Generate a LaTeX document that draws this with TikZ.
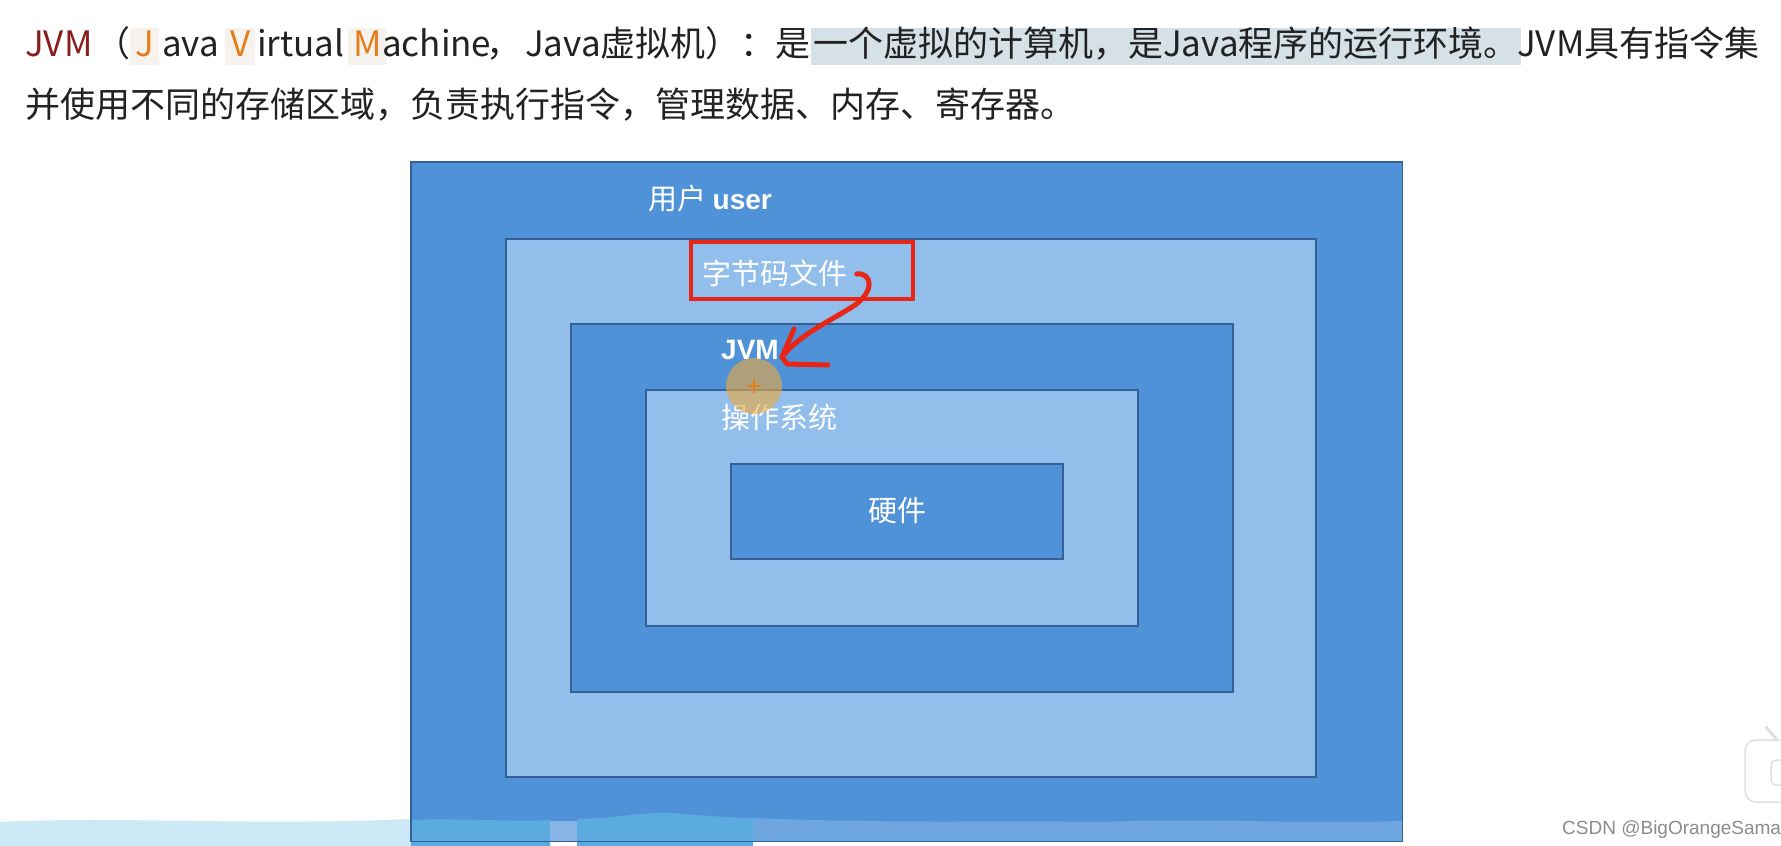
\documentclass[tikz,border=0pt]{standalone}
\usepackage{fontspec}
\newfontfamily\cjk{Noto Sans CJK SC}
\newfontfamily\lsans{Liberation Sans}
\usetikzlibrary{calc}
\definecolor{boxdark}{RGB}{79,146,216}
\definecolor{boxlight}{RGB}{146,190,236}
\definecolor{boxline}{RGB}{52,96,150}
\definecolor{redmark}{RGB}{232,38,24}
\definecolor{hlbg}{RGB}{214,224,231}
\definecolor{jvmred}{RGB}{138,30,30}
\definecolor{orangel}{RGB}{230,124,26}
\definecolor{codebg}{RGB}{246,242,238}
\definecolor{txt}{RGB}{34,34,34}
\definecolor{cyanlight}{RGB}{204,234,246}
\definecolor{cyanmid}{RGB}{91,170,224}
\definecolor{bandblue}{RGB}{110,166,223}
\definecolor{stripblue}{RGB}{134,180,228}
\definecolor{cursorc}{RGB}{236,170,60}
\definecolor{wmgray}{RGB}{140,140,140}
\begin{document}
\begin{tikzpicture}[x=1pt,y=-1pt,
  darkbox/.style={fill=boxdark, draw=boxline, line width=1.5pt, anchor=north west, inner sep=0pt},
  lightbox/.style={fill=boxlight, draw=boxline, line width=1.5pt, anchor=north west, inner sep=0pt},
  toptext/.style={anchor=base west, inner sep=0pt, font=\cjk\fontsize{35}{42}\selectfont, text=txt},
  codeletter/.style={anchor=base west, inner xsep=5pt, inner ysep=0pt, text height=28pt, text depth=9pt, fill=codebg, text=orangel, font=\cjk\fontsize{35}{42}\selectfont},
  lbl/.style={text=white, inner sep=0pt, font=\cjk\fontsize{29}{34}\selectfont},
  redstroke/.style={draw=redmark, line width=5pt, line cap=round, line join=round}
]
\useasboundingbox (0,0) rectangle (1781,846);
\fill[white] (0,0) rectangle (1781,846);

% ---- top text ----
\node[toptext, text=jvmred] (t1) at (25,56) {JVM};
\node[toptext] (t2) at (95,56) {（};
\node[codeletter] (t3) at (130,56) {J};
\node[toptext] (t4) at (162,56) {ava};
\node[codeletter] (t5) at (225,56) {V};
\node[toptext] (t6) at (257,56) {irtual};
\node[codeletter] (t7) at (348,56) {M};
\node[toptext] (t8) at (382,56) {achine};
\node[toptext] (t9) at (486,56) {，};
\node[toptext] (t10) at (525,56) {Java虚拟机）：是};
\node[toptext, fill=hlbg, inner xsep=2pt, text height=28pt, text depth=9pt] (t11) at (t10.base east) {一个虚拟的计算机，是Java程序的运行环境。};
\node[toptext] (t12) at ($(t11.base east)+(-4,0)$) {JVM具有指令集};
\node[toptext] (t13) at (25,117) {并使用不同的存储区域，负责执行指令，管理数据、内存、寄存器。};

% ---- nested boxes ----
\node[fill=boxdark, anchor=north west, inner sep=0pt, minimum width=991pt, minimum height=679pt] (userbox) at (411,162) {};
% bottom wave artefact
\fill[cyanlight] (0,846) -- (0,822) .. controls (120,816) and (250,826) .. (411,819) -- (411,846) -- cycle;
\fill[cyanmid] (411,846) -- (411,820) .. controls (460,818) and (510,822) .. (550,820) -- (550,846) -- cycle;
\fill[stripblue] (550,841) rectangle (577,821);
\fill[cyanmid] (577,846) -- (577,819) .. controls (620,818) and (640,812) .. (670,813) .. controls (700,815) and (730,818) .. (753,818) -- (753,846) -- cycle;
\fill[bandblue] (753,841) -- (753,818) .. controls (900,824) and (1000,820) .. (1100,822) .. controls (1200,818) and (1300,824) .. (1402,821) -- (1402,841) -- cycle;
\draw[boxline, line width=1.5pt] (userbox.north west) rectangle (userbox.south east);

\node[lightbox, minimum width=810pt, minimum height=538pt] (bcbox) at (505,238) {};
\node[darkbox, minimum width=662pt, minimum height=368pt] (jvmbox) at (570,323) {};
\node[lightbox, minimum width=492pt, minimum height=236pt] (osbox) at (645,389) {};
\node[darkbox, minimum width=332pt, minimum height=95pt] (hwbox) at (730,463) {};

% ---- labels ----
\node[lbl] (userlbl) at (710,198) {用户 {\lsans\bfseries\fontsize{28}{32}\selectfont user}};
\node[lbl] (bclbl) at (775,273) {字节码文件};
\node[lbl, font=\lsans\bfseries\fontsize{28}{32}\selectfont] (jvmlbl) at (750,350) {JVM};
\node[lbl] (oslbl) at (779,417) {操作系统};
\node[lbl] (hwlbl) at (897,511) {硬件};

% ---- red mark ----
\node[draw=redmark, line width=4.5pt, minimum width=222pt, minimum height=57pt, inner sep=0pt] (bcred) at (802,270.5) {};
\coordinate (astart) at ($(bclbl.east)+(9,1)$);
\coordinate (atip) at ($(jvmlbl.east)+(3,7)$);
\draw[redstroke] (astart) .. controls (872,272) and (876,292) .. (852,307) .. controls (828,322) and (798,336) .. (atip);
\draw[redstroke] ($(atip)+(12,-28)$) -- (atip) -- ($(atip)+(5,7)$) -- ($(atip)+(46,8)$);

% ---- cursor ----
\node[circle, fill=cursorc, fill opacity=0.6, minimum size=56pt, inner sep=0pt] (cursor) at (754,386) {};
\draw[orangel, line width=2pt] ($(cursor)+(-7,0)$) -- ($(cursor)+(7,0)$);
\draw[orangel, line width=2pt] ($(cursor)+(0,-7)$) -- ($(cursor)+(0,7)$);

% ---- right edge icon and watermark ----
\draw[black!12, fill=white, line width=1.5pt, rounded corners=11pt] (1745,740) rectangle (1810,802);
\draw[black!12, line width=3pt, line cap=round] (1766,727) -- (1777,740);
\draw[black!12, line width=1.5pt, rounded corners=5pt] (1771,760) rectangle (1795,785);
\node[anchor=base west, inner sep=0pt, font=\lsans\fontsize{19}{22}\selectfont, text=wmgray] (wm) at (1562,834) {CSDN @BigOrangeSama};
\end{tikzpicture}
\end{document}
